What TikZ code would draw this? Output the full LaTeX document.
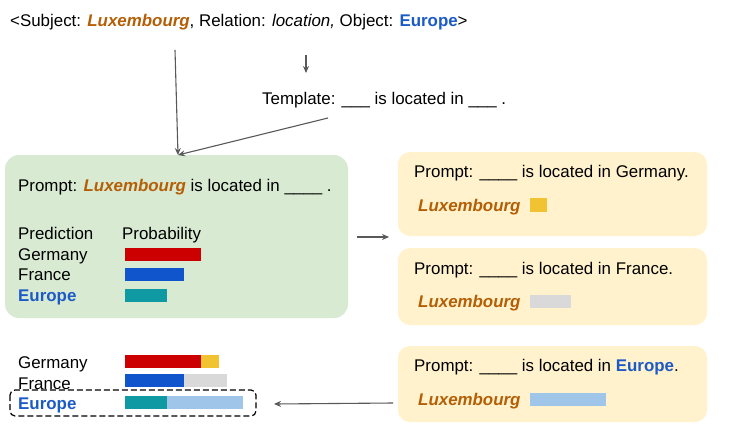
\documentclass[tikz,border=0pt]{standalone}
\usepackage{fontspec}
\setmainfont{Liberation Sans}
\usetikzlibrary{arrows.meta}
\definecolor{lux}{HTML}{B45F06}
\definecolor{eur}{HTML}{1C5BC6}
\definecolor{gbox}{HTML}{D9EAD3}
\definecolor{ybox}{HTML}{FFF2CC}
\definecolor{cred}{HTML}{CC0000}
\definecolor{cblue}{HTML}{1155CC}
\definecolor{cteal}{HTML}{0F9AA3}
\definecolor{cyel}{HTML}{F1C232}
\definecolor{cgray}{HTML}{D9D9D9}
\definecolor{clb}{HTML}{9FC5E8}
\newcommand{\lux}{\textcolor{lux}{\textbf{\textit{Luxembourg}}}}
\newcommand{\eur}{\textcolor{eur}{\textbf{Europe}}}
\begin{document}
\begin{tikzpicture}[x=1pt,y=-1pt,
  txt/.style={anchor=base west,inner sep=0pt,font=\fontsize{16.9}{19}\selectfont},
  arr/.style={draw=black!65,line width=1.1pt,-{Stealth[length=7pt,width=6pt]}},
  gb/.style={fill=gbox,draw=none,rounded corners=14pt},
  yb/.style={fill=ybox,draw=none,rounded corners=12pt}]
\useasboundingbox (0,0) rectangle (731,426);
\fill[white] (0,0) rectangle (731,426);
\node[txt] (top) at (10,26) {<Subject: \lux, Relation: \textit{location,} Object: \eur>};
\node[txt] (tmp) at (262,104) {Template: \_\_\_ is located in \_\_\_ .};
\path[gb] (5,155) rectangle (348,318);
\coordinate (gtop) at (178,155);
\draw[arr] (175,50) -- (gtop);
\draw[arr] (306,55) -- (306,73);
\draw[arr] (328,118) -- (gtop);
\node[txt] at (18,191) {Prompt: \lux\ is located in \_\_\_\_ .};
\node[txt] at (18,239) {Prediction};
\node[txt] at (122,239) {Probability};
\node[txt] at (18,260) {Germany};
\node[txt] at (18,280) {France};
\node[txt] at (18,301) {\eur};
\fill[cred] (125,248) rectangle (201,261);
\fill[cblue] (125,268) rectangle (184,281);
\fill[cteal] (125,289) rectangle (167,302);
\draw[arr] (357,237) -- (389,237);
\path[yb] (398,152) rectangle (707,236);
\path[yb] (398,248) rectangle (707,325);
\path[yb] (398,346) rectangle (707,422);
\node[txt] at (414,177) {Prompt: \_\_\_\_ is located in Germany.};
\node[txt] at (418,211) {\lux};
\fill[cyel] (530,198) rectangle (547,212);
\node[txt] at (414,274) {Prompt: \_\_\_\_ is located in France.};
\node[txt] at (418,307) {\lux};
\fill[cgray] (530,295) rectangle (571,308);
\node[txt] at (414,371) {Prompt: \_\_\_\_ is located in \eur.};
\node[txt] at (418,405) {\lux};
\fill[clb] (530,393) rectangle (606,406);
\node[txt] at (18,368) {Germany};
\node[txt] at (18,389) {France};
\node[txt] at (18,409) {\eur};
\fill[cred] (125,355) rectangle (201,368);
\fill[cyel] (201,355) rectangle (219,368);
\fill[cblue] (125,374) rectangle (184,387);
\fill[cgray] (184,374) rectangle (227,387);
\fill[cteal] (125,396) rectangle (167,409);
\fill[clb] (167,396) rectangle (243,409);
\draw[dashed,line width=1.2pt,rounded corners=5pt,dash pattern=on 6pt off 3pt] (10,390) rectangle (256,416);
\draw[arr] (393,403) -- (274,404);
\end{tikzpicture}
\end{document}
